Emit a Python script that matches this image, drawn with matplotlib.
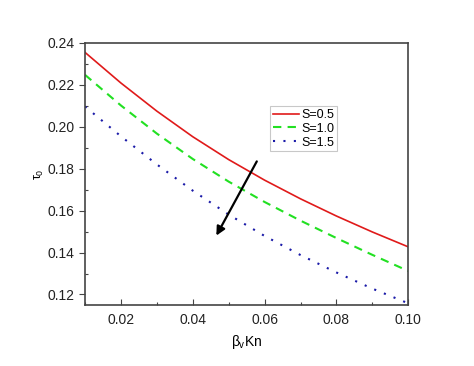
import matplotlib
matplotlib.use("Agg")
import matplotlib.pyplot as plt
from matplotlib.ticker import MultipleLocator, FormatStrFormatter

plt.rcParams['font.family'] = ['Liberation Sans', 'DejaVu Sans']
plt.rcParams['mathtext.fontset'] = 'custom'
plt.rcParams['mathtext.rm'] = 'Liberation Sans'
plt.rcParams['mathtext.it'] = 'Liberation Sans'

x = [0.01, 0.02, 0.03, 0.04, 0.05, 0.06, 0.07, 0.08, 0.09, 0.10]
s05 = [0.2354, 0.2208, 0.2074, 0.1952, 0.1843, 0.1745, 0.1656, 0.1574, 0.1498, 0.1427]
s10 = [0.2247, 0.2101, 0.1967, 0.1846, 0.1738, 0.1641, 0.1552, 0.1469, 0.1389, 0.1312]
s15 = [0.2096, 0.1954, 0.1820, 0.1695, 0.1581, 0.1479, 0.1388, 0.1305, 0.1228, 0.1158]
labels = ['S=0.5', 'S=1.0', 'S=1.5']
arrow_start = (0.0582, 0.1846)
arrow_end = (0.0462, 0.1469)

fig = plt.figure(figsize=(4.74, 3.66), dpi=100)
ax = fig.add_axes([0.1793, 0.1667, 0.6820, 0.7166])

ax.plot(x, s05, color='#e01a1a', lw=1.2, ls='-', label=labels[0])
ax.plot(x, s10, color='#22e022', lw=1.5, ls=(0, (4, 3)), label=labels[1])
ax.plot(x, s15, color='#1a1aa8', lw=1.5, ls=(0, (1, 4)), label=labels[2])

ax.annotate('', xy=arrow_end, xytext=arrow_start,
            arrowprops=dict(arrowstyle='-|>', lw=1.6, color='k', mutation_scale=13))

ax.set_xlim(0.01, 0.10)
ax.set_ylim(0.115, 0.24)
ax.xaxis.set_major_locator(MultipleLocator(0.02))
ax.xaxis.set_minor_locator(MultipleLocator(0.01))
ax.yaxis.set_major_locator(MultipleLocator(0.02))
ax.yaxis.set_minor_locator(MultipleLocator(0.01))
ax.xaxis.set_major_formatter(FormatStrFormatter('%.2f'))
ax.yaxis.set_major_formatter(FormatStrFormatter('%.2f'))

ax.tick_params(axis='x', which='major', direction='in', length=4, width=0.8, labelsize=10, pad=6, colors='#444444', labelcolor='#222222')
ax.tick_params(axis='x', which='minor', direction='in', length=2.5, width=0.8, colors='#444444')
ax.tick_params(axis='y', which='major', direction='out', length=4, width=0.8, labelsize=10, colors='#444444', labelcolor='#222222')
ax.tick_params(axis='y', which='minor', direction='in', length=2.5, width=0.8, colors='#444444')

for sp in ax.spines.values():
    sp.set_color('#444444')
    sp.set_linewidth(1.2)

ax.set_xlabel(r'$\beta_\mathrm{v}$Kn', fontsize=10, labelpad=4)
ax.set_ylabel(r'$\tau_0$', fontsize=9, labelpad=1)

leg = ax.legend(loc='upper left', bbox_to_anchor=(0.573, 0.757), fontsize=9,
                frameon=True, fancybox=False, edgecolor='#bbbbbb',
                handlelength=2.1, handletextpad=0.2, borderpad=0.2,
                labelspacing=0.15, borderaxespad=0)
leg.get_frame().set_linewidth(0.8)

fig.savefig('out.png', dpi=100)
